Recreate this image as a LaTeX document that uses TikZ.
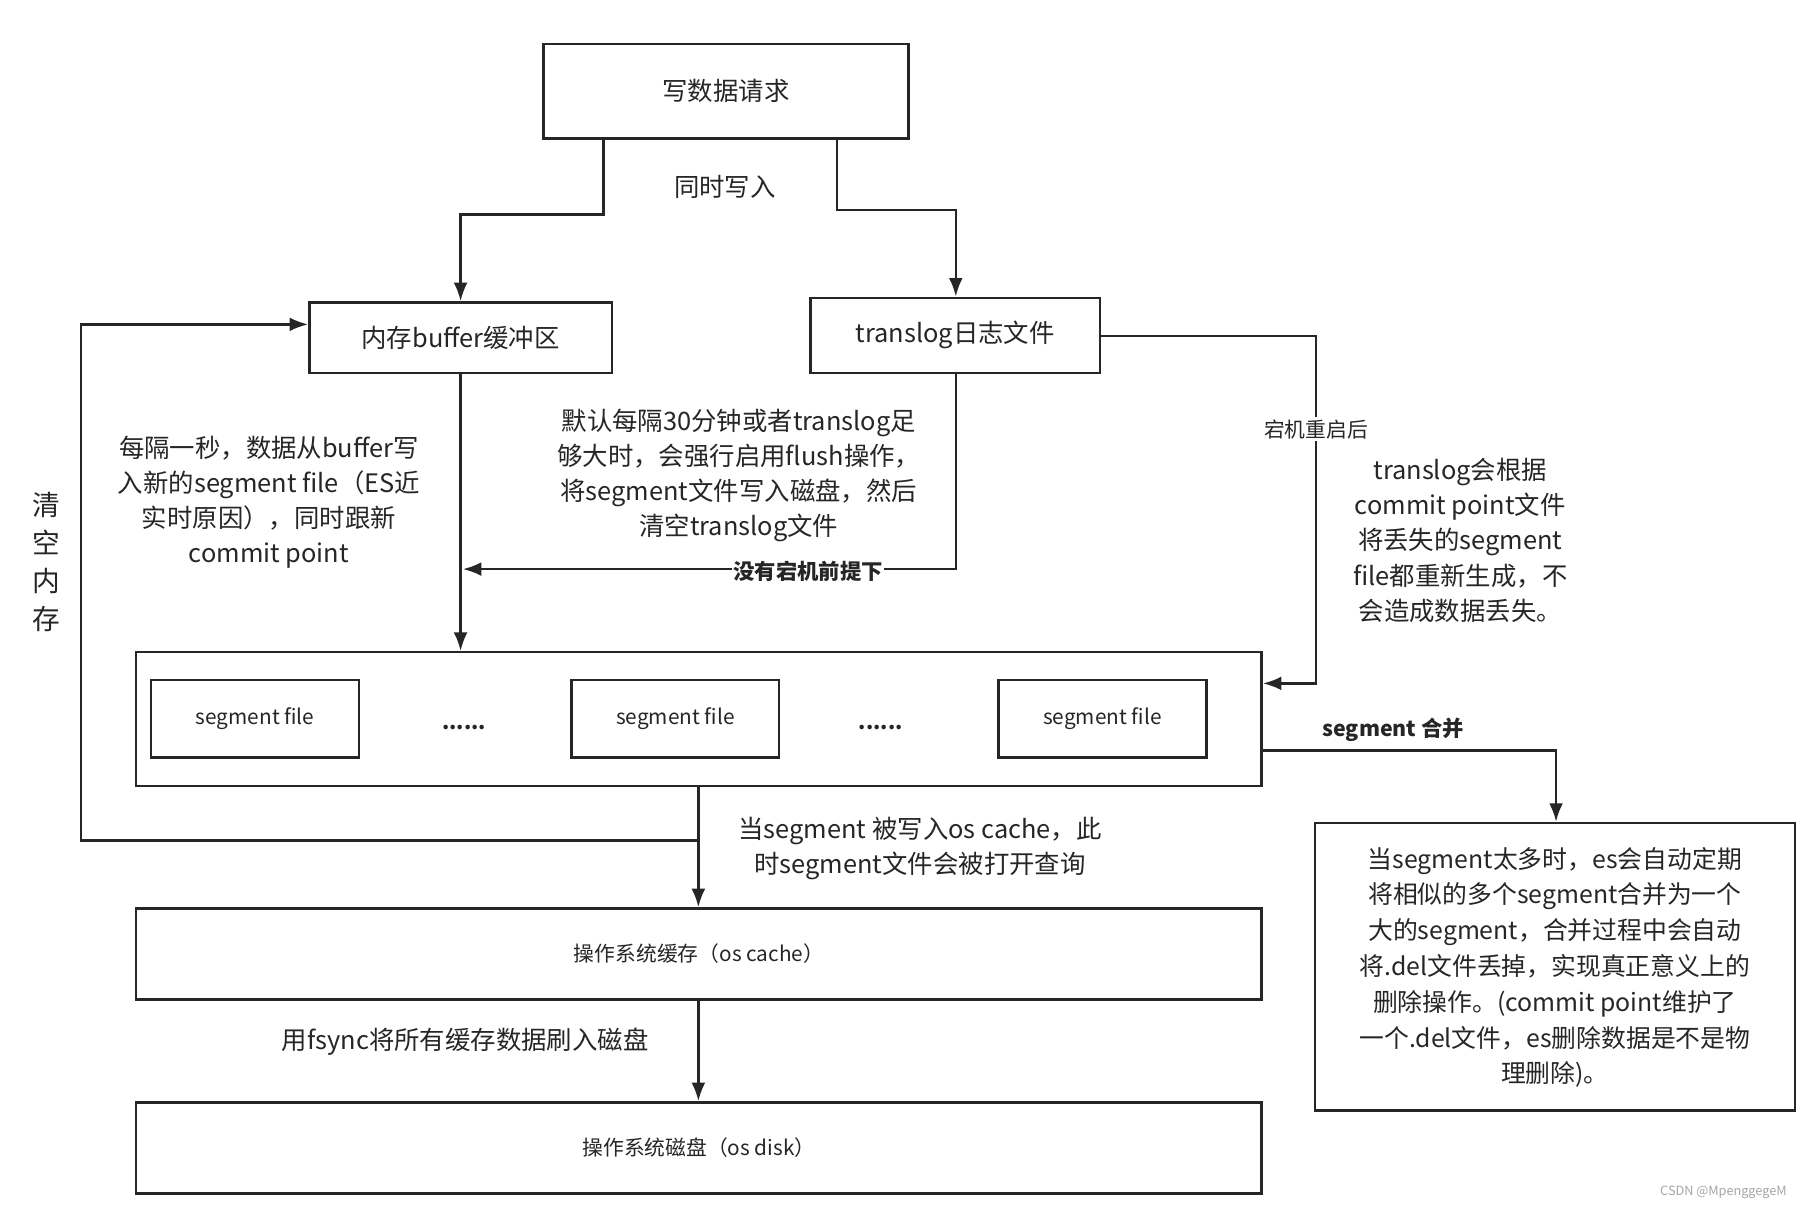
\documentclass[tikz,border=0pt]{standalone}
\usepackage{fontspec}
\setmainfont{Noto Sans CJK SC}
\usetikzlibrary{arrows.meta}
\begin{document}
\begin{tikzpicture}[x=1pt,y=-1pt,
  box/.style={draw=black!85,line width=2.2pt,inner sep=0pt},
  ln/.style={draw=black!85,line width=2.2pt},
  ar/.style={ln,-{Latex[length=16pt,width=12pt]}},
  txt/.style={font=\fontsize{22}{30.5}\selectfont,align=center,text=black!85},
  sm/.style={font=\fontsize{18}{22}\selectfont,text=black!85},
  lbl/.style={fill=white,inner sep=1pt,font=\bfseries\fontsize{18.5}{22}\selectfont,text=black!85}]
\useasboundingbox (0,0) rectangle (1568,1050);
\fill[white] (0,0) rectangle (1568,1050);
% boxes
\node[box,minimum width=316pt,minimum height=82pt,txt] (req) at (629,79) {写数据请求};
\node[box,minimum width=262pt,minimum height=61pt,txt] (buf) at (399,292.5) {内存buffer缓冲区};
\node[box,minimum width=251pt,minimum height=65pt,txt] (tl) at (827.5,290.5) {translog日志文件};
\node[box,minimum width=975pt,minimum height=116pt] (seg) at (605.5,623) {};
\node[box,minimum width=180pt,minimum height=67pt,sm] (s1) at (221,622.5) {segment file};
\node[box,minimum width=180pt,minimum height=67pt,sm] (s2) at (585,622.5) {segment file};
\node[box,minimum width=180pt,minimum height=67pt,sm] (s3) at (955,622.5) {segment file};
\node[sm,font=\bfseries\fontsize{18}{22}\selectfont] (d1) at (402,630) {......};
\node[sm,font=\bfseries\fontsize{18}{22}\selectfont] (d2) at (763,630) {......};
\node[box,minimum width=975pt,minimum height=79pt,sm] (osc) at (605.5,826.5) {操作系统缓存（os cache）};
\node[box,minimum width=975pt,minimum height=79pt,sm] (osd) at (605.5,994.5) {操作系统磁盘（os disk）};
\node[box,minimum width=416pt,minimum height=249pt] (mg) at (1347,837.5) {};
\node[txt,font=\fontsize{21.5}{31}\selectfont] (mgt) at (1347,838) {当segment太多时，es会自动定期\\将相似的多个segment合并为一个\\大的segment，合并过程中会自动\\将.del文件丢掉，实现真正意义上的\\删除操作。(commit point维护了\\一个.del文件，es删除数据是不是物\\理删除)。};
% connectors
\coordinate (a1) at (523,186); \coordinate (a2) at (399,186);
\draw[ar] (req.south -| 523,0) -- (a1) -- (a2) -- (buf.north);
\coordinate (b1) at (725,182); \coordinate (b2) at (828,182);
\draw[ar] (req.south -| 725,0) -- (b1) -- (b2) -- (tl.north -| 828,0);
\node[txt] (sx) at (628,162) {同时写入};
\draw[ar] (buf.south) -- (seg.north -| buf.south);
\coordinate (c1) at (828,493); \coordinate (c2) at (401,493);
\draw[ar] (tl.south -| 828,0) -- (c1) -- (c2);
\node[lbl] (nl) at (700,495) {没有宕机前提下};
\node[txt] (t1) at (640,412) {默认每隔30分钟或者translog足\\够大时，会强行启用flush操作，\\将segment文件写入磁盘，然后\\清空translog文件};
\node[txt] (t2) at (233,435) {每隔一秒，数据从buffer写\\入新的segment file（ES近\\实时原因），同时跟新\\commit point};
\coordinate (e1) at (1140,291); \coordinate (e2) at (1140,592);
\draw[ar] (tl.east |- 0,291) -- (e1) -- (e2) -- (seg.east |- e2);
\node[fill=white,inner sep=2pt,sm] (dj) at (1140,372) {宕机重启后};
\node[txt] (t3) at (1265,468) {translog会根据\\commit point文件\\将丢失的segment\\file都重新生成，不\\会造成数据丢失。};
\coordinate (f1) at (1348,650);
\draw[ar] (seg.east |- f1) -- (f1) -- (mg.north -| f1);
\node[lbl] (hb) at (1207,632) {segment 合并};
\draw[ar] (seg.south -| 605,0) -- (osc.north -| 605,0);
\coordinate (g0) at (605,728); \coordinate (g1) at (70,728); \coordinate (g2) at (70,281);
\draw[ar] (g0) -- (g1) -- (g2) -- (buf.west |- g2);
\node[txt,font=\fontsize{24}{33}\selectfont] (qk) at (40,487) {清\\空\\内\\存};
\node[txt] (t4) at (797,735) {当segment 被写入os cache，此\\时segment文件会被打开查询};
\draw[ar] (osc.south -| 605,0) -- (osd.north -| 605,0);
\node[txt] (t5) at (403,902) {用fsync将所有缓存数据刷入磁盘};
\node[font=\fontsize{11}{13}\selectfont,text=black!35] (wm) at (1493,1033) {CSDN @MpenggegeM};
\end{tikzpicture}
\end{document}
